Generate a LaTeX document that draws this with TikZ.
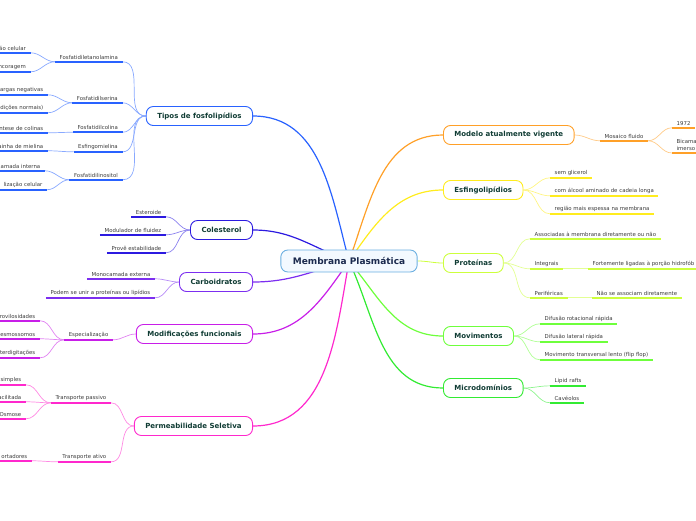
\documentclass[tikz,border=0pt]{standalone}
\usepackage{fontspec}
\setmainfont{DejaVu Sans}
\usepackage{tikz}
\usetikzlibrary{backgrounds}
\definecolor{hubline}{RGB}{106,174,224}
\definecolor{hubfill}{RGB}{243,249,255}
\definecolor{hubtext}{RGB}{27,42,78}
\definecolor{topictext}{RGB}{16,60,52}
\definecolor{leafgray}{RGB}{60,60,60}
\definecolor{cblue}{RGB}{41,98,255}
\definecolor{cindigo}{RGB}{44,26,224}
\definecolor{cpurple}{RGB}{124,46,240}
\definecolor{cviolet}{RGB}{200,30,232}
\definecolor{cpink}{RGB}{255,40,205}
\definecolor{corange}{RGB}{255,160,40}
\definecolor{cyellow}{RGB}{255,236,30}
\definecolor{clime}{RGB}{205,255,60}
\definecolor{clgreen}{RGB}{110,255,60}
\definecolor{cgreen}{RGB}{50,235,50}

\begin{document}
\begin{tikzpicture}[x=1pt, y=-1pt,
  hub/.style={draw=hubline, fill=hubfill, line width=0.9pt, rounded corners=7pt, text=hubtext, font=\bfseries\fontsize{9}{10}\selectfont, minimum height=22pt, inner xsep=12pt},
  topic/.style={draw=#1, fill=white, line width=0.9pt, rounded corners=7pt, text=topictext, font=\bfseries\fontsize{7}{8}\selectfont, minimum height=19pt, inner xsep=11pt},
  leaf/.style={text=leafgray, font=\fontsize{5.4}{6.5}\selectfont, inner xsep=4.5pt, inner ysep=2.5pt},
  branch/.style={line width=1.2pt, #1},
  twig/.style={line width=0.7pt, #1!55},
  ul/.style={line width=2pt, #1}]
  \useasboundingbox (0,0) rectangle (696,520);
  \clip (0,0) rectangle (696,520);

  % centre and main topics
  \node[hub] (mp) at (349,261) {Membrana Plasmática};
  \node[topic=cblue, anchor=east] (tipos) at (253,116) {Tipos de fosfolipídios};
  \node[topic=cindigo, anchor=east] (coles) at (253,230) {Colesterol};
  \node[topic=cpurple, anchor=east] (carb) at (253,282) {Carboidratos};
  \node[topic=cviolet, anchor=east] (modif) at (253,334) {Modificações funcionais};
  \node[topic=cpink, anchor=east] (perm) at (253,426) {Permeabilidade Seletiva};
  \node[topic=corange, anchor=west] (modelo) at (443,135) {Modelo atualmente vigente};
  \node[topic=cyellow, anchor=west] (esfing) at (443,190) {Esfingolipídios};
  \node[topic=clime, anchor=west] (prot) at (443,263) {Proteínas};
  \node[topic=clgreen, anchor=west] (movim) at (443,336) {Movimentos};
  \node[topic=cgreen, anchor=west] (micro) at (443,388) {Microdomínios};

  % tipos de fosfolipidios
  \node[leaf, anchor=base east] (fetan) at (122.5,59) {Fosfatidiletanolamina};
  \node[leaf, anchor=base east] (fser) at (122.5,100) {Fosfatidilserina};
  \node[leaf, anchor=base east] (fcol) at (122.5,129.5) {Fosfatidilcolina};
  \node[leaf, anchor=base east] (fesf) at (122.5,148) {Esfingomielina};
  \node[leaf, anchor=base east] (fino) at (122.5,177) {Fosfatidilinositol};
  \node[leaf, anchor=base east] (tcel) at (30.5,50) {ão celular};
  \node[leaf, anchor=base east] (tanc) at (30.5,68) {ncoragem};
  \node[leaf, anchor=base east] (tneg) at (48,91) {argas negativas};
  \node[leaf, anchor=base east] (tnor) at (48,109) {dições normais)};
  \node[leaf, anchor=base east] (tcoli) at (48,130) {ntese de colinas};
  \node[leaf, anchor=base east] (tmie) at (48,148) {ainha de mielina};
  \node[leaf, anchor=base east] (tint) at (45,168) {amada interna};
  \node[leaf, anchor=base east] (tsin) at (47,186) {lização celular};

  % colesterol, carboidratos
  \node[leaf, anchor=base east] (cest) at (166,214) {Esteroide};
  \node[leaf, anchor=base east] (cmod) at (166,232) {Modulador de fluidez};
  \node[leaf, anchor=base east] (cpro) at (166,250) {Provê estabilidade};
  \node[leaf, anchor=base east] (kmon) at (155,276) {Monocamada externa};
  \node[leaf, anchor=base east] (kpod) at (155,294) {Podem se unir a proteínas ou lipídios};

  % modificacoes, permeabilidade
  \node[leaf, anchor=base east] (mesp) at (113,336) {Especialização};
  \node[leaf, anchor=base east] (mmic) at (40,318) {rovilosidades};
  \node[leaf, anchor=base east] (mdes) at (40,336) {esmossomos};
  \node[leaf, anchor=base east] (mint) at (40,354) {terdigitações};
  \node[leaf, anchor=base east] (ppas) at (111,399) {Transporte passivo};
  \node[leaf, anchor=base east] (psim) at (26,381) {simples};
  \node[leaf, anchor=base east] (pfac) at (26,399) {acilitada};
  \node[leaf, anchor=base east] (posm) at (26,416) {Osmose};
  \node[leaf, anchor=base east] (pati) at (111,458) {Transporte ativo};
  \node[leaf, anchor=base east] (ptra) at (32,458) {ortadores};

  % right side
  \node[leaf, anchor=base west] (mosaic) at (600,138) {Mosaico fluido};
  \node[leaf, anchor=base west] (ano) at (672,125) {1972};
  \node[leaf, anchor=south west, align=left] (bicama) at (672,153) {Bicama\\imerso};
  \node[leaf, anchor=base west] (egli) at (550,174) {sem glicerol};
  \node[leaf, anchor=base west] (ealc) at (550,192) {com álcool aminado de cadeia longa};
  \node[leaf, anchor=base west] (ereg) at (550,210) {região mais espessa na membrana};
  \node[leaf, anchor=base west] (rass) at (530,236) {Associadas à membrana diretamente ou não};
  \node[leaf, anchor=base west] (rint) at (530,265) {Integrais};
  \node[leaf, anchor=base west] (rfor) at (588,265) {Fortemente ligadas à porção hidrofób};
  \node[leaf, anchor=base west] (rper) at (530,295) {Periféricas};
  \node[leaf, anchor=base west] (rnao) at (592,295) {Não se associam diretamente};
  \node[leaf, anchor=base west] (vrot) at (540,320) {Difusão rotacional rápida};
  \node[leaf, anchor=base west] (vlat) at (540,338) {Difusão lateral rápida};
  \node[leaf, anchor=base west] (vtra) at (540,356) {Movimento transversal lento (flip flop)};
  \node[leaf, anchor=base west] (dlip) at (550,382) {Lipid rafts};
  \node[leaf, anchor=base west] (dcav) at (550,400) {Cavéolos};

  \begin{scope}[on background layer]
    % main branches
    \draw[branch=cblue] (mp.center) to[out=105, in=0] (tipos.east);
    \draw[branch=cindigo] (mp.center) to[out=160, in=0] (coles.east);
    \draw[branch=cpurple] (mp.center) to[out=195, in=0] (carb.east);
    \draw[branch=cviolet] (mp.center) to[out=235, in=0] (modif.east);
    \draw[branch=cpink] (mp.center) to[out=260, in=0] (perm.east);
    \draw[branch=corange] (mp.center) to[out=70, in=180] (modelo.west);
    \draw[branch=cyellow] (mp.center) to[out=55, in=180] (esfing.west);
    \draw[line width=0.8pt, clime] (mp.east) to[out=0, in=180] (prot.west);
    \draw[branch=clgreen] (mp.center) to[out=-50, in=180] (movim.west);
    \draw[branch=cgreen] (mp.center) to[out=-65, in=180] (micro.west);

    % left twigs
    \foreach \n in {fetan,fser,fcol,fesf,fino}
      \draw[twig=cblue] (tipos.west) to[out=180, in=0] (\n.south east);
    \foreach \n/\p in {tcel/fetan,tanc/fetan,tneg/fser,tnor/fser,tcoli/fcol,tmie/fesf,tint/fino,tsin/fino}
      \draw[twig=cblue] (\p.south west) to[out=180, in=0] (\n.south east);
    \foreach \n in {cest,cmod,cpro}
      \draw[twig=cindigo] (coles.west) to[out=180, in=0] (\n.south east);
    \foreach \n in {kmon,kpod}
      \draw[twig=cpurple] (carb.west) to[out=180, in=0] (\n.south east);
    \draw[twig=cviolet] (modif.west) to[out=180, in=0] (mesp.south east);
    \foreach \n in {mmic,mdes,mint}
      \draw[twig=cviolet] (mesp.south west) to[out=180, in=0] (\n.south east);
    \foreach \n in {ppas,pati}
      \draw[twig=cpink] (perm.west) to[out=180, in=0] (\n.south east);
    \foreach \n in {psim,pfac,posm}
      \draw[twig=cpink] (ppas.south west) to[out=180, in=0] (\n.south east);
    \draw[twig=cpink] (pati.south west) to[out=180, in=0] (ptra.south east);

    % right twigs
    \draw[twig=corange] (modelo.east) to[out=0, in=180] (mosaic.south west);
    \foreach \n in {ano,bicama}
      \draw[twig=corange] (mosaic.south east) to[out=0, in=180] (\n.south west);
    \foreach \n in {egli,ealc,ereg}
      \draw[twig=cyellow] (esfing.east) to[out=0, in=180] (\n.south west);
    \foreach \n in {rass,rint,rper}
      \draw[twig=clime] (prot.east) to[out=0, in=180] (\n.south west);
    \draw[twig=clime] (rint.south east) -- (rfor.south west);
    \draw[twig=clime] (rper.south east) -- (rnao.south west);
    \foreach \n in {vrot,vlat,vtra}
      \draw[twig=clgreen] (movim.east) to[out=0, in=180] (\n.south west);
    \foreach \n in {dlip,dcav}
      \draw[twig=cgreen] (micro.east) to[out=0, in=180] (\n.south west);

    % underlines
    \foreach \n in {fetan,fser,fcol,fesf,fino,tcel,tanc,tneg,tnor,tcoli,tmie,tint,tsin}
      \draw[ul=cblue] (\n.south west) -- (\n.south east);
    \foreach \n in {cest,cmod,cpro}
      \draw[ul=cindigo] (\n.south west) -- (\n.south east);
    \foreach \n in {kmon,kpod}
      \draw[ul=cpurple] (\n.south west) -- (\n.south east);
    \foreach \n in {mesp,mmic,mdes,mint}
      \draw[ul=cviolet] (\n.south west) -- (\n.south east);
    \foreach \n in {ppas,psim,pfac,posm,pati,ptra}
      \draw[ul=cpink] (\n.south west) -- (\n.south east);
    \foreach \n in {mosaic,ano,bicama}
      \draw[ul=corange] (\n.south west) -- (\n.south east);
    \foreach \n in {egli,ealc,ereg}
      \draw[ul=cyellow] (\n.south west) -- (\n.south east);
    \foreach \n in {rass,rint,rfor,rper,rnao}
      \draw[ul=clime] (\n.south west) -- (\n.south east);
    \foreach \n in {vrot,vlat,vtra}
      \draw[ul=clgreen] (\n.south west) -- (\n.south east);
    \foreach \n in {dlip,dcav}
      \draw[ul=cgreen] (\n.south west) -- (\n.south east);
  \end{scope}
\end{tikzpicture}
\end{document}
